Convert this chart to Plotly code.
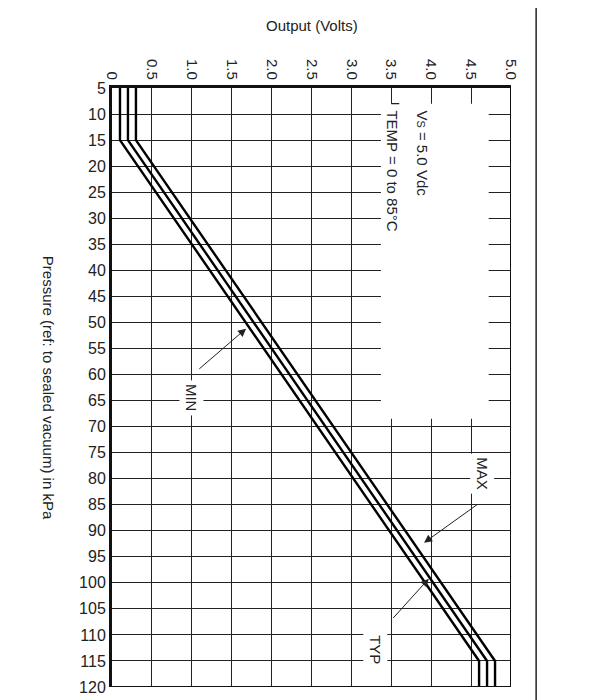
import plotly.graph_objects as go

pressure = [5, 15, 115, 120]
v_min = [0.1, 0.1, 4.6, 4.6]
v_typ = [0.2, 0.2, 4.7, 4.7]
v_max = [0.3, 0.3, 4.8, 4.8]
x_ticks = [0, 0.5, 1.0, 1.5, 2.0, 2.5, 3.0, 3.5, 4.0, 4.5, 5.0]
x_labels = ["0", "0.5", "1.0", "1.5", "2.0", "2.5", "3.0", "3.5", "4.0", "4.5", "5.0"]
y_ticks = list(range(5, 121, 5))

F = "Liberation Sans, Arial, sans-serif"
fig = go.Figure()
for v in (v_min, v_typ, v_max):
    fig.add_trace(go.Scatter(x=v, y=pressure, mode="lines",
                             line=dict(color="black", width=2.4), showlegend=False, hoverinfo="skip"))

fig.update_layout(
    width=594, height=700, margin=dict(l=104, r=91, t=80, b=12),
    paper_bgcolor="white", plot_bgcolor="white",
    font=dict(family=F, color="#222", size=14),
    xaxis=dict(range=[0, 5], side="top", tickvals=x_ticks, ticktext=x_labels, tickangle=90,
               showgrid=True, gridcolor="#222", gridwidth=1.3, zeroline=False,
               showline=True, linecolor="#111", linewidth=3, mirror=False, ticks="",
               tickfont=dict(size=15)),
    yaxis=dict(range=[120, 5], tickvals=y_ticks, showgrid=True, gridcolor="#222", gridwidth=1.3,
               zeroline=False, showline=True, linecolor="#111", linewidth=3, ticks="",
               tickfont=dict(size=16)),
)
fig.add_shape(type="line", xref="x", yref="y", x0=0, x1=5, y0=120, y1=120, line=dict(color="#111", width=2))
fig.add_shape(type="line", xref="x", yref="y", x0=5, x1=5, y0=5, y1=120, line=dict(color="#111", width=2))
fig.add_shape(type="rect", xref="x", yref="y", x0=3.37, x1=4.72, y0=8, y1=68.5,
              fillcolor="white", line=dict(width=0), layer="between")
fig.add_shape(type="line", xref="x", yref="y", x0=3.5, x1=3.6, y0=8, y1=8, line=dict(color="#222", width=1.3))
fig.add_shape(type="line", xref="paper", yref="paper", x0=1.063, x1=1.063, y0=-0.03, y1=1.14,
              line=dict(color="#222", width=1.5))

fig.add_annotation(x=3.89, y=9, xref="x", yref="y",
                   text="V<span style='font-size:11px'>S</span> = 5.0 Vdc", textangle=90,
                   showarrow=False, xanchor="center", yanchor="top", font=dict(size=15))
fig.add_annotation(x=3.52, y=9, xref="x", yref="y", text="TEMP = 0 to 85°C", textangle=90,
                   showarrow=False, xanchor="center", yanchor="top", font=dict(size=15))

def label(txt, x, y, ax, ay, tx, ty):
    fig.add_annotation(x=x, y=y, text=txt, textangle=90, showarrow=False, bgcolor="white",
                       borderpad=3, font=dict(size=15))
    fig.add_annotation(x=tx, y=ty, ax=ax, ay=ay, axref="x", ayref="y", text=" ", showarrow=True,
                       arrowhead=2, arrowsize=1.6, arrowwidth=1, arrowcolor="#222")

label("MIN", 0.99, 64.5, 1.05, 59.5, 1.68, 51.2)
label("MAX", 4.64, 79, 4.62, 84.5, 3.91, 92.3)
label("TYP", 3.3, 112.8, 3.48, 107.5, 3.97, 99.2)

fig.add_annotation(xref="paper", yref="paper", x=0.5, y=1.105, text="Output (Volts)", showarrow=False,
                   yanchor="middle", font=dict(size=15))
fig.add_annotation(xref="paper", yref="paper", x=-0.185, y=0.5, text="Pressure (ref: to sealed vacuum) in kPa",
                   textangle=90, showarrow=False, font=dict(size=15))

fig.write_html("out.html")
